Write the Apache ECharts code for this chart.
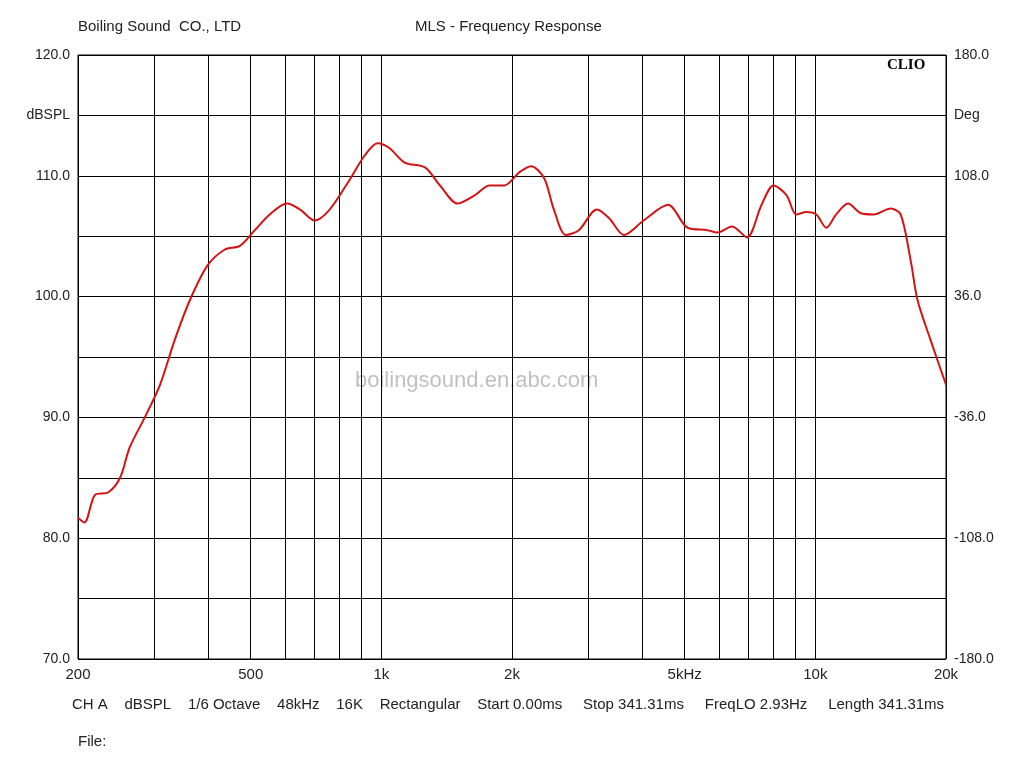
<!DOCTYPE html>
<html><head><meta charset="utf-8">
<script src="https://cdn.jsdelivr.net/npm/echarts@6/dist/echarts.min.js"></script>
<style>html,body{margin:0;padding:0;background:#fff}#c{width:1024px;height:768px}</style>
</head><body><div id="c"></div>
<script>
const freqs=[200,207,219,235,250,263,285,309,334,362,398,436,472,511,553,606,650,702,760,846,916,980,1043,1131,1260,1365,1498,1643,1776,1921,2081,2213,2372,2498,2661,2852,3137,3345,3622,4020,4577,5076,5639,5946,6430,6954,7518,8009,8579,9040,9532,10050,10600,11170,11890,12730,13630,14910,15720,16580,17200,18430,20000];
const spl=[81.7,81.3,83.6,83.8,85,87.5,90,92.7,96.4,99.7,102.6,103.9,104.2,105.5,106.8,107.7,107.2,106.3,107.2,109.7,111.7,112.7,112.3,111.1,110.7,109.2,107.7,108.4,109.2,109.2,110.3,110.8,109.8,107.2,105.1,105.5,107.2,106.5,105.1,106.3,107.6,105.7,105.5,105.3,105.8,104.9,107.6,109.2,108.4,106.8,107,106.8,105.7,106.8,107.7,106.9,106.8,107.3,106.8,103,99.7,96.4,92.7];
const gridFreqs=[200,300,400,500,600,700,800,900,1000,2000,3000,4000,5000,6000,7000,8000,9000,10000,20000];
const xLabels={200:'200',500:'500',1000:'1k',2000:'2k',5000:'5kHz',10000:'10k',20000:'20k'};
const ch=echarts.init(document.getElementById('c'));
const tf="Arial, 'Liberation Sans', sans-serif";
ch.setOption({
 animation:false,
 grid:{left:78,right:78,top:55,bottom:109,show:true,borderColor:'#000',borderWidth:1},
 xAxis:{type:'log',logBase:10,min:200,max:20000,axisLine:{show:false},axisTick:{show:false},splitLine:{show:false},axisLabel:{show:false}},
 yAxis:[{type:'value',min:70,max:120,interval:5,position:'left',axisLine:{show:false},axisTick:{show:false},
   splitLine:{show:true,lineStyle:{color:'#000',width:1}},
   axisLabel:{color:'#222',fontSize:14,fontFamily:tf,formatter:v=>v%10===0?v.toFixed(1):(v===115?'dBSPL':'')}},
  {type:'value',min:-180,max:180,interval:36,position:'right',axisLine:{show:false},axisTick:{show:false},splitLine:{show:false},
   axisLabel:{color:'#222',fontSize:14,fontFamily:tf,formatter:v=>v===144?'Deg':((v+180)%72===0?v.toFixed(1):'')}}],
 graphic:[
  {type:'text',left:78,top:19,style:{text:'Boiling Sound  CO., LTD',fontSize:15,fill:'#222',fontFamily:tf}},
  {type:'text',left:415,top:19,style:{text:'MLS - Frequency Response',fontSize:15,fill:'#222',fontFamily:tf}},
  {type:'text',left:887,top:58,style:{text:'CLIO',fontSize:15,fontWeight:'bold',fill:'#000',fontFamily:"'Liberation Serif', serif"}},
  {type:'text',left:355,top:370,style:{text:'boilingsound.en.abc.com',fontSize:22,fill:'rgba(150,150,150,0.6)',fontFamily:tf}},
  {type:'text',left:72,top:697,style:{text:'CH A    dBSPL    1/6 Octave    48kHz    16K    Rectangular    Start 0.00ms     Stop 341.31ms     FreqLO 2.93Hz     Length 341.31ms',fontSize:15,fill:'#222',fontFamily:tf}},
  {type:'text',left:78,top:734,style:{text:'File:',fontSize:15,fill:'#222',fontFamily:tf}}
 ],
 series:[
  {type:'line',data:[],markLine:{silent:true,symbol:'none',animation:false,
    lineStyle:{color:'#000',width:1,type:'solid'},
    label:{show:true,position:'start',color:'#222',fontSize:15,fontFamily:tf,distance:8,formatter:p=>xLabels[p.value]||''},
    data:gridFreqs.map(f=>({xAxis:f}))}},
  {type:'line',data:freqs.map((f,i)=>[f,spl[i]]),smooth:0.3,showSymbol:false,lineStyle:{color:'#d41414',width:2},z:5}
 ]
});
</script></body></html>
